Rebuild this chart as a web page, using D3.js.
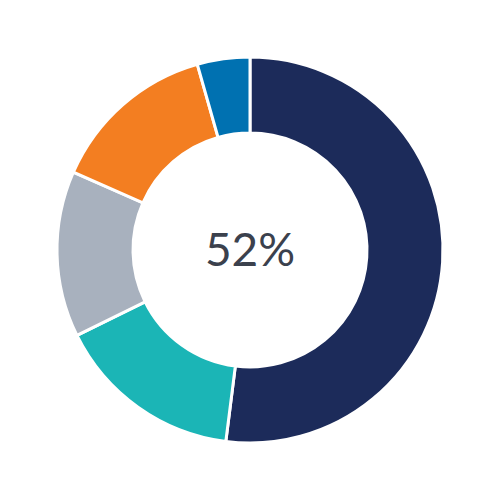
<!DOCTYPE html>
<html>
<head>
<meta charset="utf-8">
<script src="https://cdn.jsdelivr.net/npm/d3@7"></script>
<style>
  body { margin: 0; background: #fff; }
</style>
</head>
<body>
<script>
"use strict";
const categories = ["A", "B", "C", "D", "E"];
const values = [52, 15.7, 13.9, 14, 4.4];
const colors = ["#1c2b5a", "#1bb5b6", "#a8b1be", "#f37e21", "#0071b1"];
const centerLabel = "52%";

const width = 500, height = 500;
const svg = d3.select("body").append("svg")
    .attr("width", width)
    .attr("height", height);

const g = svg.append("g").attr("transform", "translate(250,250)");

const pie = d3.pie().sort(null).value(d => d.value);
const arc = d3.arc().innerRadius(117).outerRadius(193);

const slices = pie(categories.map((c, i) => ({ name: c, value: values[i] })));

g.selectAll("path")
    .data(slices)
    .enter()
    .append("path")
    .attr("d", arc)
    .attr("fill", (d, i) => colors[i])
    .attr("stroke", "#fff")
    .attr("stroke-width", 3);

g.append("text")
    .attr("text-anchor", "middle")
    .attr("dy", "0.35em")
    .style("font-family", "Lato, sans-serif")
    .style("font-size", "46px")
    .style("font-weight", 400)
    .attr("fill", "#3b414d")
    .text(centerLabel);
</script>
</body>
</html>
